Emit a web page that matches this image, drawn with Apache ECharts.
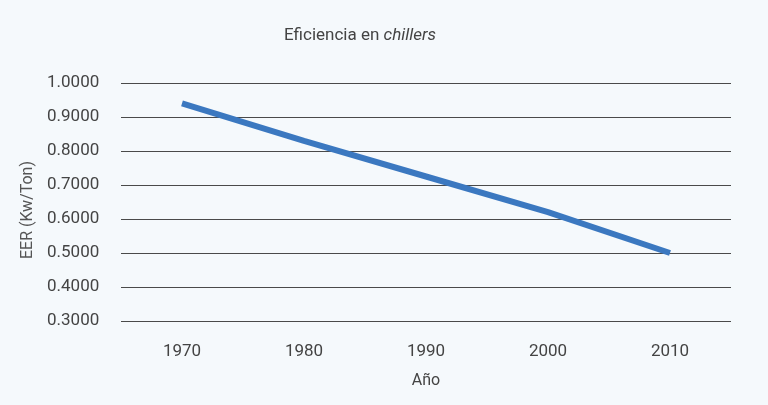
<!DOCTYPE html>
<html>
<head>
<meta charset="utf-8">
<script src="https://cdn.jsdelivr.net/npm/echarts@6/dist/echarts.min.js"></script>
<style>
  html, body { margin: 0; padding: 0; background: #f5f9fc; }
  #chart { width: 768px; height: 405px; }
</style>
</head>
<body>
<div id="chart"></div>
<script>
const years = ['1970', '1980', '1990', '2000', '2010'];
const eer = [0.94, 0.83, 0.725, 0.62, 0.50];

const chart = echarts.init(document.getElementById('chart'));

const option = {
    backgroundColor: '#f5f9fc',
    textStyle: { fontFamily: 'Roboto' },
    title: {
        text: '{n|Eficiencia en }{i|chillers}',
        left: 355,
        top: 22,
        textAlign: 'center',
        textStyle: {
            fontWeight: 'normal',
            rich: {
                n: { fontSize: 17, color: '#444', fontWeight: 'normal', fontFamily: 'Roboto' },
                i: { fontSize: 17, color: '#444', fontWeight: 'normal', fontStyle: 'italic', fontFamily: 'Roboto' }
            }
        }
    },
    grid: {
        left: 121,
        right: 37,
        top: 83,
        bottom: 84
    },
    xAxis: {
        type: 'category',
        data: years,
        boundaryGap: true,
        name: 'Año',
        nameLocation: 'middle',
        nameGap: 52,
        nameTextStyle: { fontSize: 16, color: '#444' },
        axisLine: { show: false },
        axisTick: { show: false },
        axisLabel: { fontSize: 17, color: '#444', margin: 22 }
    },
    yAxis: {
        type: 'value',
        min: 0.3,
        max: 1.0,
        interval: 0.1,
        name: 'EER (Kw/Ton)',
        nameLocation: 'middle',
        nameGap: 84,
        nameTextStyle: { fontSize: 16, color: '#555', padding: [0, 0, 0, -16] },
        axisLine: { show: false },
        axisTick: { show: false },
        axisLabel: {
            fontSize: 17,
            color: '#444',
            align: 'left',
            margin: 74,
            formatter: function (v) { return v.toFixed(4); }
        },
        splitLine: { lineStyle: { color: '#4a4a4a', width: 1 } }
    },
    series: [{
        type: 'line',
        data: eer,
        symbol: 'none',
        lineStyle: { color: '#3b78c0', width: 6, cap: 'butt' }
    }]
};

chart.setOption(option);
</script>
</body>
</html>
